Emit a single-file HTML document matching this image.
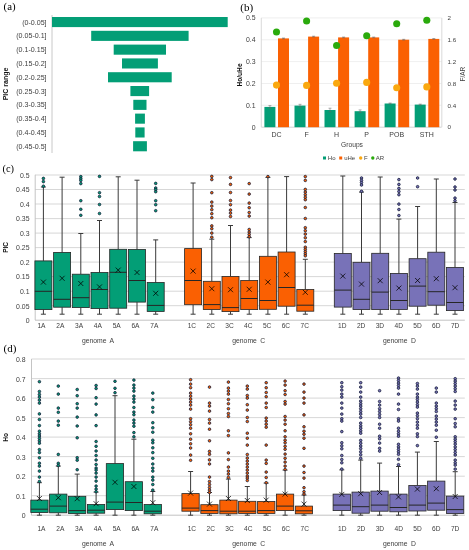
<!DOCTYPE html><html><head><meta charset="utf-8"><title>Figure</title>
<style>html,body{margin:0;padding:0;background:#fff}svg{display:block}text{font-family:"Liberation Sans",Arial,sans-serif;fill:#404040}.ser{font-family:"Liberation Serif","Times New Roman",serif;fill:#000}.b{font-weight:bold;fill:#111}</style></head><body>
<svg width="469" height="550" viewBox="0 0 469 550">
<rect width="469" height="550" fill="#fff"/>
<text class="ser" x="3.6" y="10.4" font-size="10.8">(a)</text>
<line x1="52" y1="15" x2="52" y2="153" stroke="#c8c8c8" stroke-width="1"/>
<rect x="52.0" y="17.0" width="175.7" height="10.1" fill="#039e76"/>
<text x="46.6" y="24.6" font-size="7.1" text-anchor="end">(0-0.05]</text>
<rect x="91.2" y="30.8" width="97.4" height="10.1" fill="#039e76"/>
<text x="46.6" y="38.4" font-size="7.1" text-anchor="end">(0.05-0.1]</text>
<rect x="113.7" y="44.6" width="52.3" height="10.1" fill="#039e76"/>
<text x="46.6" y="52.2" font-size="7.1" text-anchor="end">(0.1-0.15]</text>
<rect x="122.0" y="58.4" width="35.9" height="10.1" fill="#039e76"/>
<text x="46.6" y="66.0" font-size="7.1" text-anchor="end">(0.15-0.2]</text>
<rect x="108.0" y="72.2" width="63.7" height="10.1" fill="#039e76"/>
<text x="46.6" y="79.8" font-size="7.1" text-anchor="end">(0.2-0.25]</text>
<rect x="130.4" y="86.0" width="18.7" height="10.1" fill="#039e76"/>
<text x="46.6" y="93.6" font-size="7.1" text-anchor="end">(0.25-0.3]</text>
<rect x="133.3" y="99.8" width="13.2" height="10.1" fill="#039e76"/>
<text x="46.6" y="107.4" font-size="7.1" text-anchor="end">(0.3-0.35]</text>
<rect x="135.1" y="113.6" width="9.8" height="10.1" fill="#039e76"/>
<text x="46.6" y="121.2" font-size="7.1" text-anchor="end">(0.35-0.4]</text>
<rect x="135.3" y="127.4" width="9.3" height="10.1" fill="#039e76"/>
<text x="46.6" y="135.0" font-size="7.1" text-anchor="end">(0.4-0.45]</text>
<rect x="133.1" y="141.2" width="13.8" height="10.1" fill="#039e76"/>
<text x="46.6" y="148.8" font-size="7.1" text-anchor="end">(0.45-0.5]</text>
<text class="b" transform="translate(8,84) rotate(-90)" font-size="7" text-anchor="middle">PIC range</text>
<text class="ser" x="240.3" y="10.5" font-size="11">(b)</text>
<line x1="261.4" y1="127.2" x2="441.6" y2="127.2" stroke="#c8c8c8" stroke-width="0.8"/>
<text x="255.5" y="129.7" font-size="6.9" text-anchor="end">0</text>
<text x="447.5" y="129.4" font-size="6.2">0</text>
<line x1="261.4" y1="105.3" x2="441.6" y2="105.3" stroke="#ebebeb" stroke-width="0.8"/>
<text x="255.5" y="107.8" font-size="6.9" text-anchor="end">0.1</text>
<text x="447.5" y="107.5" font-size="6.2">0.4</text>
<line x1="261.4" y1="83.5" x2="441.6" y2="83.5" stroke="#ebebeb" stroke-width="0.8"/>
<text x="255.5" y="86.0" font-size="6.9" text-anchor="end">0.2</text>
<text x="447.5" y="85.7" font-size="6.2">0.8</text>
<line x1="261.4" y1="61.6" x2="441.6" y2="61.6" stroke="#ebebeb" stroke-width="0.8"/>
<text x="255.5" y="64.1" font-size="6.9" text-anchor="end">0.3</text>
<text x="447.5" y="63.8" font-size="6.2">1.2</text>
<line x1="261.4" y1="39.8" x2="441.6" y2="39.8" stroke="#ebebeb" stroke-width="0.8"/>
<text x="255.5" y="42.3" font-size="6.9" text-anchor="end">0.4</text>
<text x="447.5" y="42.0" font-size="6.2">1.6</text>
<line x1="261.4" y1="17.9" x2="441.6" y2="17.9" stroke="#ebebeb" stroke-width="0.8"/>
<text x="255.5" y="20.4" font-size="6.9" text-anchor="end">0.5</text>
<text x="447.5" y="20.1" font-size="6.2">2</text>
<rect x="264.4" y="106.9" width="11" height="20.3" fill="#039e76"/>
<rect x="278.0" y="38.4" width="11" height="88.8" fill="#fa6002"/>
<path d="M269.9 105.6V108.2M268.4 105.6h3M268.4 108.2h3" stroke="#666" stroke-width="0.5" fill="none"/>
<path d="M283.5 38.0V38.8M282.0 38.0h3M282.0 38.8h3" stroke="#666" stroke-width="0.5" fill="none"/>
<circle cx="276.5" cy="85.1" r="3.55" fill="#faa80f"/>
<circle cx="276.5" cy="32.0" r="3.55" fill="#2aaa0c"/>
<text x="276.5" y="137" font-size="7" text-anchor="middle">DC</text>
<rect x="294.5" y="105.6" width="11" height="21.6" fill="#039e76"/>
<rect x="308.1" y="36.6" width="11" height="90.6" fill="#fa6002"/>
<path d="M300.0 104.3V106.9M298.5 104.3h3M298.5 106.9h3" stroke="#666" stroke-width="0.5" fill="none"/>
<path d="M313.6 36.2V37.0M312.1 36.2h3M312.1 37.0h3" stroke="#666" stroke-width="0.5" fill="none"/>
<circle cx="306.6" cy="85.4" r="3.55" fill="#faa80f"/>
<circle cx="306.6" cy="21.0" r="3.55" fill="#2aaa0c"/>
<text x="306.6" y="137" font-size="7" text-anchor="middle">F</text>
<rect x="324.5" y="110.0" width="11" height="17.2" fill="#039e76"/>
<rect x="338.1" y="37.4" width="11" height="89.8" fill="#fa6002"/>
<path d="M330.0 108.2V111.8M328.5 108.2h3M328.5 111.8h3" stroke="#666" stroke-width="0.5" fill="none"/>
<path d="M343.6 37.0V37.8M342.1 37.0h3M342.1 37.8h3" stroke="#666" stroke-width="0.5" fill="none"/>
<circle cx="336.6" cy="83.2" r="3.55" fill="#faa80f"/>
<circle cx="336.6" cy="45.5" r="3.55" fill="#2aaa0c"/>
<text x="336.6" y="137" font-size="7" text-anchor="middle">H</text>
<rect x="354.6" y="111.2" width="11" height="16.0" fill="#039e76"/>
<rect x="368.2" y="37.4" width="11" height="89.8" fill="#fa6002"/>
<path d="M360.1 109.9V112.5M358.6 109.9h3M358.6 112.5h3" stroke="#666" stroke-width="0.5" fill="none"/>
<path d="M373.7 37.0V37.8M372.2 37.0h3M372.2 37.8h3" stroke="#666" stroke-width="0.5" fill="none"/>
<circle cx="366.7" cy="82.4" r="3.55" fill="#faa80f"/>
<circle cx="366.7" cy="35.8" r="3.55" fill="#2aaa0c"/>
<text x="366.7" y="137" font-size="7" text-anchor="middle">P</text>
<rect x="384.6" y="103.5" width="11" height="23.7" fill="#039e76"/>
<rect x="398.2" y="39.7" width="11" height="87.5" fill="#fa6002"/>
<path d="M390.1 103.0V104.0M388.6 103.0h3M388.6 104.0h3" stroke="#666" stroke-width="0.5" fill="none"/>
<path d="M403.7 39.3V40.1M402.2 39.3h3M402.2 40.1h3" stroke="#666" stroke-width="0.5" fill="none"/>
<circle cx="396.7" cy="87.7" r="3.55" fill="#faa80f"/>
<circle cx="396.7" cy="23.8" r="3.55" fill="#2aaa0c"/>
<text x="396.7" y="137" font-size="7" text-anchor="middle">POB</text>
<rect x="414.7" y="104.6" width="11" height="22.6" fill="#039e76"/>
<rect x="428.3" y="38.9" width="11" height="88.3" fill="#fa6002"/>
<path d="M420.2 104.1V105.1M418.7 104.1h3M418.7 105.1h3" stroke="#666" stroke-width="0.5" fill="none"/>
<path d="M433.8 38.5V39.3M432.3 38.5h3M432.3 39.3h3" stroke="#666" stroke-width="0.5" fill="none"/>
<circle cx="426.8" cy="86.9" r="3.55" fill="#faa80f"/>
<circle cx="426.8" cy="20.2" r="3.55" fill="#2aaa0c"/>
<text x="426.8" y="137" font-size="7" text-anchor="middle">STH</text>
<text x="352" y="146.8" font-size="6.7" text-anchor="middle">Groups</text>
<path d="M261.3 17.9V127.2M441.8 17.9V127.2" stroke="#d0d0d0" stroke-width="0.8" fill="none"/>
<text class="b" transform="translate(242.2,75) rotate(-90)" font-size="6.6" text-anchor="middle">Ho/uHe</text>
<text transform="translate(464.8,74.1) rotate(-90)" font-size="6.5" text-anchor="middle" fill="#222">F/AR</text>
<rect x="323" y="156.5" width="3" height="3" fill="#039e76"/><text x="327.8" y="160.2" font-size="6" fill="#222">Ho</text>
<rect x="339.2" y="156.5" width="3" height="3" fill="#fa6002"/><text x="344.2" y="160.2" font-size="6" fill="#222">uHe</text>
<circle cx="360.7" cy="158" r="1.7" fill="#faa80f"/><text x="364.1" y="160.2" font-size="6" fill="#222">F</text>
<circle cx="372.8" cy="158" r="1.7" fill="#2aaa0c"/><text x="375.8" y="160.2" font-size="6" fill="#222">AR</text>
<text class="ser" x="2.5" y="172.1" font-size="10.4">(c)</text>
<line x1="35" y1="320.2" x2="464.8" y2="320.2" stroke="#bcbcbc" stroke-width="0.9"/>
<text x="29.5" y="323.0" font-size="6.9" text-anchor="end">0</text>
<line x1="35" y1="305.7" x2="464.8" y2="305.7" stroke="#d2d2d2" stroke-width="0.9"/>
<text x="29.5" y="308.5" font-size="6.9" text-anchor="end">0.05</text>
<line x1="35" y1="291.2" x2="464.8" y2="291.2" stroke="#d2d2d2" stroke-width="0.9"/>
<text x="29.5" y="294.0" font-size="6.9" text-anchor="end">0.1</text>
<line x1="35" y1="276.6" x2="464.8" y2="276.6" stroke="#d2d2d2" stroke-width="0.9"/>
<text x="29.5" y="279.4" font-size="6.9" text-anchor="end">0.15</text>
<line x1="35" y1="262.1" x2="464.8" y2="262.1" stroke="#d2d2d2" stroke-width="0.9"/>
<text x="29.5" y="264.9" font-size="6.9" text-anchor="end">0.2</text>
<line x1="35" y1="247.6" x2="464.8" y2="247.6" stroke="#d2d2d2" stroke-width="0.9"/>
<text x="29.5" y="250.4" font-size="6.9" text-anchor="end">0.25</text>
<line x1="35" y1="233.1" x2="464.8" y2="233.1" stroke="#d2d2d2" stroke-width="0.9"/>
<text x="29.5" y="235.9" font-size="6.9" text-anchor="end">0.3</text>
<line x1="35" y1="218.6" x2="464.8" y2="218.6" stroke="#d2d2d2" stroke-width="0.9"/>
<text x="29.5" y="221.4" font-size="6.9" text-anchor="end">0.35</text>
<line x1="35" y1="204.0" x2="464.8" y2="204.0" stroke="#d2d2d2" stroke-width="0.9"/>
<text x="29.5" y="206.8" font-size="6.9" text-anchor="end">0.4</text>
<line x1="35" y1="189.5" x2="464.8" y2="189.5" stroke="#d2d2d2" stroke-width="0.9"/>
<text x="29.5" y="192.3" font-size="6.9" text-anchor="end">0.45</text>
<line x1="35" y1="175.0" x2="464.8" y2="175.0" stroke="#d2d2d2" stroke-width="0.9"/>
<text x="29.5" y="177.8" font-size="6.9" text-anchor="end">0.5</text>
<line x1="35.2" y1="174.8" x2="35.2" y2="320" stroke="#c4c4c4" stroke-width="1"/>
<path d="M43.4 187.0V260.9M43.4 309.6V314.2M40.9 187.0h5M40.9 314.2h5" stroke="#3a3a3a" stroke-width="1" fill="none"/><rect x="34.9" y="260.9" width="17.0" height="48.7" fill="#039e76" stroke="#262626" stroke-width="0.8"/><line x1="34.9" y1="291.3" x2="51.9" y2="291.3" stroke="#262626" stroke-width="1"/><path d="M40.9 279.6l5 5m0 -5l-5 5" stroke="#000" stroke-width="0.75" fill="none"/><circle cx="43.4" cy="178.4" r="1.3" fill="#039e76" stroke="#141c38" stroke-width="0.8"/><circle cx="43.4" cy="181.6" r="1.3" fill="#039e76" stroke="#141c38" stroke-width="0.8"/><circle cx="43.4" cy="186.2" r="1.3" fill="#039e76" stroke="#141c38" stroke-width="0.8"/>
<text x="41.5" y="328.4" font-size="6.6" text-anchor="middle">1A</text>
<path d="M62.1 177.2V252.4M62.1 307.2V314.2M59.6 177.2h5M59.6 314.2h5" stroke="#3a3a3a" stroke-width="1" fill="none"/><rect x="53.6" y="252.4" width="17.0" height="54.8" fill="#039e76" stroke="#262626" stroke-width="0.8"/><line x1="53.6" y1="299.3" x2="70.6" y2="299.3" stroke="#262626" stroke-width="1"/><path d="M59.6 275.8l5 5m0 -5l-5 5" stroke="#000" stroke-width="0.75" fill="none"/>
<text x="60.3" y="328.4" font-size="6.6" text-anchor="middle">2A</text>
<path d="M80.8 233.5V274.2M80.8 307.6V314.2M78.3 233.5h5M78.3 314.2h5" stroke="#3a3a3a" stroke-width="1" fill="none"/><rect x="72.3" y="274.2" width="17.0" height="33.4" fill="#039e76" stroke="#262626" stroke-width="0.8"/><line x1="72.3" y1="297.7" x2="89.3" y2="297.7" stroke="#262626" stroke-width="1"/><path d="M78.3 281.0l5 5m0 -5l-5 5" stroke="#000" stroke-width="0.75" fill="none"/><circle cx="80.8" cy="176.6" r="1.3" fill="#039e76" stroke="#141c38" stroke-width="0.8"/><circle cx="80.8" cy="178.6" r="1.3" fill="#039e76" stroke="#141c38" stroke-width="0.8"/><circle cx="80.8" cy="180.4" r="1.3" fill="#039e76" stroke="#141c38" stroke-width="0.8"/><circle cx="80.8" cy="183.6" r="1.3" fill="#039e76" stroke="#141c38" stroke-width="0.8"/><circle cx="80.8" cy="200.7" r="1.3" fill="#039e76" stroke="#141c38" stroke-width="0.8"/><circle cx="80.8" cy="209.3" r="1.3" fill="#039e76" stroke="#141c38" stroke-width="0.8"/><circle cx="80.8" cy="215.3" r="1.3" fill="#039e76" stroke="#141c38" stroke-width="0.8"/>
<text x="79.1" y="328.4" font-size="6.6" text-anchor="middle">3A</text>
<path d="M99.5 220.5V272.5M99.5 308.6V314.2M97.0 220.5h5M97.0 314.2h5" stroke="#3a3a3a" stroke-width="1" fill="none"/><rect x="91.0" y="272.5" width="17.0" height="36.1" fill="#039e76" stroke="#262626" stroke-width="0.8"/><line x1="91.0" y1="289.5" x2="108.0" y2="289.5" stroke="#262626" stroke-width="1"/><path d="M97.0 284.4l5 5m0 -5l-5 5" stroke="#000" stroke-width="0.75" fill="none"/><circle cx="99.5" cy="176.4" r="1.3" fill="#039e76" stroke="#141c38" stroke-width="0.8"/><circle cx="99.5" cy="192.7" r="1.3" fill="#039e76" stroke="#141c38" stroke-width="0.8"/><circle cx="99.5" cy="196.5" r="1.3" fill="#039e76" stroke="#141c38" stroke-width="0.8"/><circle cx="99.5" cy="204.5" r="1.3" fill="#039e76" stroke="#141c38" stroke-width="0.8"/><circle cx="99.5" cy="213.5" r="1.3" fill="#039e76" stroke="#141c38" stroke-width="0.8"/>
<text x="97.9" y="328.4" font-size="6.6" text-anchor="middle">4A</text>
<path d="M118.2 176.8V249.3M118.2 308.2V314.2M115.7 176.8h5M115.7 314.2h5" stroke="#3a3a3a" stroke-width="1" fill="none"/><rect x="109.7" y="249.3" width="17.0" height="58.9" fill="#039e76" stroke="#262626" stroke-width="0.8"/><line x1="109.7" y1="272.3" x2="126.7" y2="272.3" stroke="#262626" stroke-width="1"/><path d="M115.7 267.6l5 5m0 -5l-5 5" stroke="#000" stroke-width="0.75" fill="none"/>
<text x="116.7" y="328.4" font-size="6.6" text-anchor="middle">5A</text>
<path d="M137.0 180.2V249.5M137.0 302.1V314.2M134.5 180.2h5M134.5 314.2h5" stroke="#3a3a3a" stroke-width="1" fill="none"/><rect x="128.5" y="249.5" width="17.0" height="52.6" fill="#039e76" stroke="#262626" stroke-width="0.8"/><line x1="128.5" y1="280.5" x2="145.5" y2="280.5" stroke="#262626" stroke-width="1"/><path d="M134.5 270.0l5 5m0 -5l-5 5" stroke="#000" stroke-width="0.75" fill="none"/>
<text x="135.5" y="328.4" font-size="6.6" text-anchor="middle">6A</text>
<path d="M155.7 239.9V282.5M155.7 311.4V314.2M153.2 239.9h5M153.2 314.2h5" stroke="#3a3a3a" stroke-width="1" fill="none"/><rect x="147.2" y="282.5" width="17.0" height="28.9" fill="#039e76" stroke="#262626" stroke-width="0.8"/><line x1="147.2" y1="305.4" x2="164.2" y2="305.4" stroke="#262626" stroke-width="1"/><path d="M153.2 290.8l5 5m0 -5l-5 5" stroke="#000" stroke-width="0.75" fill="none"/><circle cx="155.7" cy="183.4" r="1.3" fill="#039e76" stroke="#141c38" stroke-width="0.8"/><circle cx="155.7" cy="188.0" r="1.3" fill="#039e76" stroke="#141c38" stroke-width="0.8"/><circle cx="155.7" cy="189.6" r="1.3" fill="#039e76" stroke="#141c38" stroke-width="0.8"/><circle cx="155.7" cy="191.7" r="1.3" fill="#039e76" stroke="#141c38" stroke-width="0.8"/><circle cx="155.7" cy="200.7" r="1.3" fill="#039e76" stroke="#141c38" stroke-width="0.8"/><circle cx="155.7" cy="204.7" r="1.3" fill="#039e76" stroke="#141c38" stroke-width="0.8"/><circle cx="155.7" cy="210.7" r="1.3" fill="#039e76" stroke="#141c38" stroke-width="0.8"/>
<text x="154.3" y="328.4" font-size="6.6" text-anchor="middle">7A</text>
<path d="M193.1 183.0V248.6M193.1 304.7V314.2M190.6 183.0h5M190.6 314.2h5" stroke="#3a3a3a" stroke-width="1" fill="none"/><rect x="184.6" y="248.6" width="17.0" height="56.1" fill="#fa6002" stroke="#262626" stroke-width="0.8"/><line x1="184.6" y1="280.5" x2="201.6" y2="280.5" stroke="#262626" stroke-width="1"/><path d="M190.6 268.6l5 5m0 -5l-5 5" stroke="#000" stroke-width="0.75" fill="none"/>
<text x="191.9" y="328.4" font-size="6.6" text-anchor="middle">1C</text>
<path d="M211.8 239.2V281.3M211.8 309.6V314.2M209.3 239.2h5M209.3 314.2h5" stroke="#3a3a3a" stroke-width="1" fill="none"/><rect x="203.3" y="281.3" width="17.0" height="28.3" fill="#fa6002" stroke="#262626" stroke-width="0.8"/><line x1="203.3" y1="304.6" x2="220.3" y2="304.6" stroke="#262626" stroke-width="1"/><path d="M209.3 286.2l5 5m0 -5l-5 5" stroke="#000" stroke-width="0.75" fill="none"/><circle cx="211.8" cy="176.4" r="1.3" fill="#fa6002" stroke="#141c38" stroke-width="0.8"/><circle cx="211.8" cy="179.6" r="1.3" fill="#fa6002" stroke="#141c38" stroke-width="0.8"/><circle cx="211.8" cy="192.7" r="1.3" fill="#fa6002" stroke="#141c38" stroke-width="0.8"/><circle cx="211.8" cy="202.1" r="1.3" fill="#fa6002" stroke="#141c38" stroke-width="0.8"/><circle cx="211.8" cy="206.1" r="1.3" fill="#fa6002" stroke="#141c38" stroke-width="0.8"/><circle cx="211.8" cy="209.7" r="1.3" fill="#fa6002" stroke="#141c38" stroke-width="0.8"/><circle cx="211.8" cy="213.7" r="1.3" fill="#fa6002" stroke="#141c38" stroke-width="0.8"/><circle cx="211.8" cy="217.7" r="1.3" fill="#fa6002" stroke="#141c38" stroke-width="0.8"/><circle cx="211.8" cy="225.9" r="1.3" fill="#fa6002" stroke="#141c38" stroke-width="0.8"/><circle cx="211.8" cy="228.7" r="1.3" fill="#fa6002" stroke="#141c38" stroke-width="0.8"/><circle cx="211.8" cy="233.1" r="1.3" fill="#fa6002" stroke="#141c38" stroke-width="0.8"/><circle cx="211.8" cy="237.2" r="1.3" fill="#fa6002" stroke="#141c38" stroke-width="0.8"/>
<text x="210.7" y="328.4" font-size="6.6" text-anchor="middle">2C</text>
<path d="M230.5 225.5V276.5M230.5 311.6V314.2M228.0 225.5h5M228.0 314.2h5" stroke="#3a3a3a" stroke-width="1" fill="none"/><rect x="222.0" y="276.5" width="17.0" height="35.1" fill="#fa6002" stroke="#262626" stroke-width="0.8"/><line x1="222.0" y1="307.6" x2="239.0" y2="307.6" stroke="#262626" stroke-width="1"/><path d="M228.0 287.2l5 5m0 -5l-5 5" stroke="#000" stroke-width="0.75" fill="none"/><circle cx="230.5" cy="177.6" r="1.3" fill="#fa6002" stroke="#141c38" stroke-width="0.8"/><circle cx="230.5" cy="184.4" r="1.3" fill="#fa6002" stroke="#141c38" stroke-width="0.8"/><circle cx="230.5" cy="192.5" r="1.3" fill="#fa6002" stroke="#141c38" stroke-width="0.8"/><circle cx="230.5" cy="200.5" r="1.3" fill="#fa6002" stroke="#141c38" stroke-width="0.8"/><circle cx="230.5" cy="204.7" r="1.3" fill="#fa6002" stroke="#141c38" stroke-width="0.8"/><circle cx="230.5" cy="210.1" r="1.3" fill="#fa6002" stroke="#141c38" stroke-width="0.8"/><circle cx="230.5" cy="213.1" r="1.3" fill="#fa6002" stroke="#141c38" stroke-width="0.8"/><circle cx="230.5" cy="216.5" r="1.3" fill="#fa6002" stroke="#141c38" stroke-width="0.8"/>
<text x="229.5" y="328.4" font-size="6.6" text-anchor="middle">3C</text>
<path d="M249.2 237.6V280.5M249.2 309.6V314.2M246.7 237.6h5M246.7 314.2h5" stroke="#3a3a3a" stroke-width="1" fill="none"/><rect x="240.7" y="280.5" width="17.0" height="29.1" fill="#fa6002" stroke="#262626" stroke-width="0.8"/><line x1="240.7" y1="298.5" x2="257.7" y2="298.5" stroke="#262626" stroke-width="1"/><path d="M246.7 286.8l5 5m0 -5l-5 5" stroke="#000" stroke-width="0.75" fill="none"/><circle cx="249.2" cy="183.6" r="1.3" fill="#fa6002" stroke="#141c38" stroke-width="0.8"/><circle cx="249.2" cy="194.1" r="1.3" fill="#fa6002" stroke="#141c38" stroke-width="0.8"/><circle cx="249.2" cy="203.1" r="1.3" fill="#fa6002" stroke="#141c38" stroke-width="0.8"/><circle cx="249.2" cy="207.7" r="1.3" fill="#fa6002" stroke="#141c38" stroke-width="0.8"/><circle cx="249.2" cy="212.5" r="1.3" fill="#fa6002" stroke="#141c38" stroke-width="0.8"/><circle cx="249.2" cy="216.1" r="1.3" fill="#fa6002" stroke="#141c38" stroke-width="0.8"/><circle cx="249.2" cy="229.5" r="1.3" fill="#fa6002" stroke="#141c38" stroke-width="0.8"/><circle cx="249.2" cy="232.1" r="1.3" fill="#fa6002" stroke="#141c38" stroke-width="0.8"/><circle cx="249.2" cy="234.5" r="1.3" fill="#fa6002" stroke="#141c38" stroke-width="0.8"/><circle cx="249.2" cy="236.8" r="1.3" fill="#fa6002" stroke="#141c38" stroke-width="0.8"/>
<text x="248.3" y="328.4" font-size="6.6" text-anchor="middle">4C</text>
<path d="M267.9 177.4V256.3M267.9 309.3V314.2M265.4 177.4h5M265.4 314.2h5" stroke="#3a3a3a" stroke-width="1" fill="none"/><rect x="259.4" y="256.3" width="17.0" height="53.0" fill="#fa6002" stroke="#262626" stroke-width="0.8"/><line x1="259.4" y1="300.5" x2="276.4" y2="300.5" stroke="#262626" stroke-width="1"/><path d="M265.4 279.6l5 5m0 -5l-5 5" stroke="#000" stroke-width="0.75" fill="none"/><circle cx="267.9" cy="176.6" r="1.3" fill="#fa6002" stroke="#141c38" stroke-width="0.8"/>
<text x="267.1" y="328.4" font-size="6.6" text-anchor="middle">5C</text>
<path d="M286.6 176.6V252.0M286.6 306.2V314.2M284.1 176.6h5M284.1 314.2h5" stroke="#3a3a3a" stroke-width="1" fill="none"/><rect x="278.1" y="252.0" width="17.0" height="54.2" fill="#fa6002" stroke="#262626" stroke-width="0.8"/><line x1="278.1" y1="287.5" x2="295.1" y2="287.5" stroke="#262626" stroke-width="1"/><path d="M284.1 272.2l5 5m0 -5l-5 5" stroke="#000" stroke-width="0.75" fill="none"/>
<text x="285.9" y="328.4" font-size="6.6" text-anchor="middle">6C</text>
<path d="M305.3 259.3V289.5M305.3 311.2V314.2M302.8 259.3h5M302.8 314.2h5" stroke="#3a3a3a" stroke-width="1" fill="none"/><rect x="296.8" y="289.5" width="17.0" height="21.7" fill="#fa6002" stroke="#262626" stroke-width="0.8"/><line x1="296.8" y1="305.2" x2="313.8" y2="305.2" stroke="#262626" stroke-width="1"/><path d="M302.8 289.8l5 5m0 -5l-5 5" stroke="#000" stroke-width="0.75" fill="none"/><circle cx="305.3" cy="176.6" r="1.3" fill="#fa6002" stroke="#141c38" stroke-width="0.8"/><circle cx="305.3" cy="180.4" r="1.3" fill="#fa6002" stroke="#141c38" stroke-width="0.8"/><circle cx="305.3" cy="189.4" r="1.3" fill="#fa6002" stroke="#141c38" stroke-width="0.8"/><circle cx="305.3" cy="192.1" r="1.3" fill="#fa6002" stroke="#141c38" stroke-width="0.8"/><circle cx="305.3" cy="194.7" r="1.3" fill="#fa6002" stroke="#141c38" stroke-width="0.8"/><circle cx="305.3" cy="197.3" r="1.3" fill="#fa6002" stroke="#141c38" stroke-width="0.8"/><circle cx="305.3" cy="199.7" r="1.3" fill="#fa6002" stroke="#141c38" stroke-width="0.8"/><circle cx="305.3" cy="207.5" r="1.3" fill="#fa6002" stroke="#141c38" stroke-width="0.8"/><circle cx="305.3" cy="218.5" r="1.3" fill="#fa6002" stroke="#141c38" stroke-width="0.8"/><circle cx="305.3" cy="227.7" r="1.3" fill="#fa6002" stroke="#141c38" stroke-width="0.8"/><circle cx="305.3" cy="230.7" r="1.3" fill="#fa6002" stroke="#141c38" stroke-width="0.8"/><circle cx="305.3" cy="234.1" r="1.3" fill="#fa6002" stroke="#141c38" stroke-width="0.8"/><circle cx="305.3" cy="237.8" r="1.3" fill="#fa6002" stroke="#141c38" stroke-width="0.8"/><circle cx="305.3" cy="241.6" r="1.3" fill="#fa6002" stroke="#141c38" stroke-width="0.8"/><circle cx="305.3" cy="247.2" r="1.3" fill="#fa6002" stroke="#141c38" stroke-width="0.8"/><circle cx="305.3" cy="249.4" r="1.3" fill="#fa6002" stroke="#141c38" stroke-width="0.8"/><circle cx="305.3" cy="251.6" r="1.3" fill="#fa6002" stroke="#141c38" stroke-width="0.8"/><circle cx="305.3" cy="253.8" r="1.3" fill="#fa6002" stroke="#141c38" stroke-width="0.8"/><circle cx="305.3" cy="255.8" r="1.3" fill="#fa6002" stroke="#141c38" stroke-width="0.8"/>
<text x="304.7" y="328.4" font-size="6.6" text-anchor="middle">7C</text>
<path d="M342.8 176.0V253.5M342.8 307.1V314.2M340.3 176.0h5M340.3 314.2h5" stroke="#3a3a3a" stroke-width="1" fill="none"/><rect x="334.3" y="253.5" width="17.0" height="53.6" fill="#7872b8" stroke="#262626" stroke-width="0.8"/><line x1="334.3" y1="290.1" x2="351.3" y2="290.1" stroke="#262626" stroke-width="1"/><path d="M340.3 273.6l5 5m0 -5l-5 5" stroke="#000" stroke-width="0.75" fill="none"/>
<text x="342.3" y="328.4" font-size="6.6" text-anchor="middle">1D</text>
<path d="M361.5 192.1V262.3M361.5 309.6V314.2M359.0 192.1h5M359.0 314.2h5" stroke="#3a3a3a" stroke-width="1" fill="none"/><rect x="353.0" y="262.3" width="17.0" height="47.3" fill="#7872b8" stroke="#262626" stroke-width="0.8"/><line x1="353.0" y1="299.3" x2="370.0" y2="299.3" stroke="#262626" stroke-width="1"/><path d="M359.0 281.6l5 5m0 -5l-5 5" stroke="#000" stroke-width="0.75" fill="none"/><circle cx="361.5" cy="178.0" r="1.3" fill="#7872b8" stroke="#141c38" stroke-width="0.8"/><circle cx="361.5" cy="180.4" r="1.3" fill="#7872b8" stroke="#141c38" stroke-width="0.8"/><circle cx="361.5" cy="182.6" r="1.3" fill="#7872b8" stroke="#141c38" stroke-width="0.8"/><circle cx="361.5" cy="185.0" r="1.3" fill="#7872b8" stroke="#141c38" stroke-width="0.8"/><circle cx="361.5" cy="191.3" r="1.3" fill="#7872b8" stroke="#141c38" stroke-width="0.8"/>
<text x="361.1" y="328.4" font-size="6.6" text-anchor="middle">2D</text>
<path d="M380.2 177.0V253.3M380.2 309.6V314.2M377.7 177.0h5M377.7 314.2h5" stroke="#3a3a3a" stroke-width="1" fill="none"/><rect x="371.7" y="253.3" width="17.0" height="56.3" fill="#7872b8" stroke="#262626" stroke-width="0.8"/><line x1="371.7" y1="292.1" x2="388.7" y2="292.1" stroke="#262626" stroke-width="1"/><path d="M377.7 278.2l5 5m0 -5l-5 5" stroke="#000" stroke-width="0.75" fill="none"/>
<text x="379.9" y="328.4" font-size="6.6" text-anchor="middle">3D</text>
<path d="M398.9 219.1V273.4M398.9 309.4V314.2M396.4 219.1h5M396.4 314.2h5" stroke="#3a3a3a" stroke-width="1" fill="none"/><rect x="390.4" y="273.4" width="17.0" height="36.0" fill="#7872b8" stroke="#262626" stroke-width="0.8"/><line x1="390.4" y1="300.5" x2="407.4" y2="300.5" stroke="#262626" stroke-width="1"/><path d="M396.4 285.6l5 5m0 -5l-5 5" stroke="#000" stroke-width="0.75" fill="none"/><circle cx="398.9" cy="179.6" r="1.3" fill="#7872b8" stroke="#141c38" stroke-width="0.8"/><circle cx="398.9" cy="184.4" r="1.3" fill="#7872b8" stroke="#141c38" stroke-width="0.8"/><circle cx="398.9" cy="188.4" r="1.3" fill="#7872b8" stroke="#141c38" stroke-width="0.8"/><circle cx="398.9" cy="191.5" r="1.3" fill="#7872b8" stroke="#141c38" stroke-width="0.8"/><circle cx="398.9" cy="194.7" r="1.3" fill="#7872b8" stroke="#141c38" stroke-width="0.8"/><circle cx="398.9" cy="204.1" r="1.3" fill="#7872b8" stroke="#141c38" stroke-width="0.8"/><circle cx="398.9" cy="209.5" r="1.3" fill="#7872b8" stroke="#141c38" stroke-width="0.8"/><circle cx="398.9" cy="215.5" r="1.3" fill="#7872b8" stroke="#141c38" stroke-width="0.8"/>
<text x="398.7" y="328.4" font-size="6.6" text-anchor="middle">4D</text>
<path d="M417.6 206.5V258.7M417.6 306.2V314.2M415.1 206.5h5M415.1 314.2h5" stroke="#3a3a3a" stroke-width="1" fill="none"/><rect x="409.1" y="258.7" width="17.0" height="47.5" fill="#7872b8" stroke="#262626" stroke-width="0.8"/><line x1="409.1" y1="286.1" x2="426.1" y2="286.1" stroke="#262626" stroke-width="1"/><path d="M415.1 278.0l5 5m0 -5l-5 5" stroke="#000" stroke-width="0.75" fill="none"/><circle cx="417.6" cy="178.0" r="1.3" fill="#7872b8" stroke="#141c38" stroke-width="0.8"/><circle cx="417.6" cy="186.7" r="1.3" fill="#7872b8" stroke="#141c38" stroke-width="0.8"/>
<text x="417.5" y="328.4" font-size="6.6" text-anchor="middle">5D</text>
<path d="M436.3 179.0V252.2M436.3 305.2V314.2M433.8 179.0h5M433.8 314.2h5" stroke="#3a3a3a" stroke-width="1" fill="none"/><rect x="427.8" y="252.2" width="17.0" height="53.0" fill="#7872b8" stroke="#262626" stroke-width="0.8"/><line x1="427.8" y1="291.7" x2="444.8" y2="291.7" stroke="#262626" stroke-width="1"/><path d="M433.8 276.2l5 5m0 -5l-5 5" stroke="#000" stroke-width="0.75" fill="none"/>
<text x="436.3" y="328.4" font-size="6.6" text-anchor="middle">6D</text>
<path d="M455.0 202.5V267.4M455.0 310.6V314.2M452.5 202.5h5M452.5 314.2h5" stroke="#3a3a3a" stroke-width="1" fill="none"/><rect x="446.5" y="267.4" width="17.0" height="43.2" fill="#7872b8" stroke="#262626" stroke-width="0.8"/><line x1="446.5" y1="302.5" x2="463.5" y2="302.5" stroke="#262626" stroke-width="1"/><path d="M452.5 285.2l5 5m0 -5l-5 5" stroke="#000" stroke-width="0.75" fill="none"/><circle cx="455.0" cy="179.0" r="1.3" fill="#7872b8" stroke="#141c38" stroke-width="0.8"/><circle cx="455.0" cy="187.0" r="1.3" fill="#7872b8" stroke="#141c38" stroke-width="0.8"/><circle cx="455.0" cy="190.0" r="1.3" fill="#7872b8" stroke="#141c38" stroke-width="0.8"/><circle cx="455.0" cy="198.1" r="1.3" fill="#7872b8" stroke="#141c38" stroke-width="0.8"/><circle cx="455.0" cy="200.7" r="1.3" fill="#7872b8" stroke="#141c38" stroke-width="0.8"/>
<text x="455.1" y="328.4" font-size="6.6" text-anchor="middle">7D</text>
<text x="98.0" y="342.7" font-size="6.8" text-anchor="middle" fill="#262626" word-spacing="1.5">genome A</text>
<text x="248.7" y="342.7" font-size="6.8" text-anchor="middle" fill="#262626" word-spacing="1.5">genome C</text>
<text x="399.4" y="342.7" font-size="6.8" text-anchor="middle" fill="#262626" word-spacing="1.5">genome D</text>
<text class="b" transform="translate(7.7,247.4) rotate(-90)" font-size="6.5" text-anchor="middle">PIC</text>
<text class="ser" x="3.6" y="352.4" font-size="11">(d)</text>
<line x1="31.4" y1="515.2" x2="464.8" y2="515.2" stroke="#bcbcbc" stroke-width="0.9"/>
<text x="25.6" y="518.1" font-size="6.9" text-anchor="end">0</text>
<line x1="31.4" y1="495.7" x2="464.8" y2="495.7" stroke="#d2d2d2" stroke-width="0.9"/>
<text x="25.6" y="498.6" font-size="6.9" text-anchor="end">0.1</text>
<line x1="31.4" y1="476.2" x2="464.8" y2="476.2" stroke="#d2d2d2" stroke-width="0.9"/>
<text x="25.6" y="479.1" font-size="6.9" text-anchor="end">0.2</text>
<line x1="31.4" y1="456.6" x2="464.8" y2="456.6" stroke="#d2d2d2" stroke-width="0.9"/>
<text x="25.6" y="459.5" font-size="6.9" text-anchor="end">0.3</text>
<line x1="31.4" y1="437.1" x2="464.8" y2="437.1" stroke="#d2d2d2" stroke-width="0.9"/>
<text x="25.6" y="440.0" font-size="6.9" text-anchor="end">0.4</text>
<line x1="31.4" y1="417.6" x2="464.8" y2="417.6" stroke="#d2d2d2" stroke-width="0.9"/>
<text x="25.6" y="420.5" font-size="6.9" text-anchor="end">0.5</text>
<line x1="31.4" y1="398.1" x2="464.8" y2="398.1" stroke="#d2d2d2" stroke-width="0.9"/>
<text x="25.6" y="401.0" font-size="6.9" text-anchor="end">0.6</text>
<line x1="31.4" y1="378.6" x2="464.8" y2="378.6" stroke="#d2d2d2" stroke-width="0.9"/>
<text x="25.6" y="381.5" font-size="6.9" text-anchor="end">0.7</text>
<line x1="31.4" y1="359.0" x2="464.8" y2="359.0" stroke="#d2d2d2" stroke-width="0.9"/>
<text x="25.6" y="361.9" font-size="6.9" text-anchor="end">0.8</text>
<line x1="31.5" y1="359" x2="31.5" y2="515.2" stroke="#c4c4c4" stroke-width="1"/>
<path d="M39.4 482.7V500.1M39.4 512.6V515.2M36.9 482.7h5M36.9 515.2h5" stroke="#3a3a3a" stroke-width="1" fill="none"/><rect x="30.8" y="500.1" width="17.3" height="12.5" fill="#039e76" stroke="#262626" stroke-width="0.8"/><line x1="30.8" y1="509.2" x2="48.0" y2="509.2" stroke="#262626" stroke-width="1"/><path d="M36.9 496.0l5 5m0 -5l-5 5" stroke="#000" stroke-width="0.75" fill="none"/><circle cx="39.4" cy="381.7" r="1.3" fill="#039e76" stroke="#141c38" stroke-width="0.8"/><circle cx="39.4" cy="391.5" r="1.3" fill="#039e76" stroke="#141c38" stroke-width="0.8"/><circle cx="39.4" cy="394.5" r="1.3" fill="#039e76" stroke="#141c38" stroke-width="0.8"/><circle cx="39.4" cy="397.1" r="1.3" fill="#039e76" stroke="#141c38" stroke-width="0.8"/><circle cx="39.4" cy="400.1" r="1.3" fill="#039e76" stroke="#141c38" stroke-width="0.8"/><circle cx="39.4" cy="403.1" r="1.3" fill="#039e76" stroke="#141c38" stroke-width="0.8"/><circle cx="39.4" cy="413.9" r="1.3" fill="#039e76" stroke="#141c38" stroke-width="0.8"/><circle cx="39.4" cy="419.5" r="1.3" fill="#039e76" stroke="#141c38" stroke-width="0.8"/><circle cx="39.4" cy="425.6" r="1.3" fill="#039e76" stroke="#141c38" stroke-width="0.8"/><circle cx="39.4" cy="431.2" r="1.3" fill="#039e76" stroke="#141c38" stroke-width="0.8"/><circle cx="39.4" cy="433.8" r="1.3" fill="#039e76" stroke="#141c38" stroke-width="0.8"/><circle cx="39.4" cy="436.0" r="1.3" fill="#039e76" stroke="#141c38" stroke-width="0.8"/><circle cx="39.4" cy="438.4" r="1.3" fill="#039e76" stroke="#141c38" stroke-width="0.8"/><circle cx="39.4" cy="440.8" r="1.3" fill="#039e76" stroke="#141c38" stroke-width="0.8"/><circle cx="39.4" cy="443.2" r="1.3" fill="#039e76" stroke="#141c38" stroke-width="0.8"/><circle cx="39.4" cy="449.6" r="1.3" fill="#039e76" stroke="#141c38" stroke-width="0.8"/><circle cx="39.4" cy="452.6" r="1.3" fill="#039e76" stroke="#141c38" stroke-width="0.8"/><circle cx="39.4" cy="457.8" r="1.3" fill="#039e76" stroke="#141c38" stroke-width="0.8"/><circle cx="39.4" cy="463.2" r="1.3" fill="#039e76" stroke="#141c38" stroke-width="0.8"/><circle cx="39.4" cy="466.1" r="1.3" fill="#039e76" stroke="#141c38" stroke-width="0.8"/><circle cx="39.4" cy="471.1" r="1.3" fill="#039e76" stroke="#141c38" stroke-width="0.8"/><circle cx="39.4" cy="477.1" r="1.3" fill="#039e76" stroke="#141c38" stroke-width="0.8"/><circle cx="39.4" cy="481.5" r="1.3" fill="#039e76" stroke="#141c38" stroke-width="0.8"/>
<text x="41.5" y="530.9" font-size="6.6" text-anchor="middle">1A</text>
<path d="M58.3 466.1V494.1M58.3 512.8V515.2M55.8 466.1h5M55.8 515.2h5" stroke="#3a3a3a" stroke-width="1" fill="none"/><rect x="49.6" y="494.1" width="17.3" height="18.7" fill="#039e76" stroke="#262626" stroke-width="0.8"/><line x1="49.6" y1="506.1" x2="67.0" y2="506.1" stroke="#262626" stroke-width="1"/><path d="M55.8 495.2l5 5m0 -5l-5 5" stroke="#000" stroke-width="0.75" fill="none"/><circle cx="58.3" cy="386.1" r="1.3" fill="#039e76" stroke="#141c38" stroke-width="0.8"/><circle cx="58.3" cy="394.1" r="1.3" fill="#039e76" stroke="#141c38" stroke-width="0.8"/><circle cx="58.3" cy="408.1" r="1.3" fill="#039e76" stroke="#141c38" stroke-width="0.8"/><circle cx="58.3" cy="412.3" r="1.3" fill="#039e76" stroke="#141c38" stroke-width="0.8"/><circle cx="58.3" cy="421.1" r="1.3" fill="#039e76" stroke="#141c38" stroke-width="0.8"/><circle cx="58.3" cy="425.2" r="1.3" fill="#039e76" stroke="#141c38" stroke-width="0.8"/><circle cx="58.3" cy="454.4" r="1.3" fill="#039e76" stroke="#141c38" stroke-width="0.8"/><circle cx="58.3" cy="463.3" r="1.3" fill="#039e76" stroke="#141c38" stroke-width="0.8"/><circle cx="58.3" cy="465.5" r="1.3" fill="#039e76" stroke="#141c38" stroke-width="0.8"/>
<text x="60.3" y="530.9" font-size="6.6" text-anchor="middle">2A</text>
<path d="M77.2 474.1V496.3M77.2 513.6V515.2M74.7 474.1h5M74.7 515.2h5" stroke="#3a3a3a" stroke-width="1" fill="none"/><rect x="68.5" y="496.3" width="17.3" height="17.3" fill="#039e76" stroke="#262626" stroke-width="0.8"/><line x1="68.5" y1="510.6" x2="85.8" y2="510.6" stroke="#262626" stroke-width="1"/><path d="M74.7 496.2l5 5m0 -5l-5 5" stroke="#000" stroke-width="0.75" fill="none"/><circle cx="77.2" cy="389.5" r="1.3" fill="#039e76" stroke="#141c38" stroke-width="0.8"/><circle cx="77.2" cy="395.7" r="1.3" fill="#039e76" stroke="#141c38" stroke-width="0.8"/><circle cx="77.2" cy="403.7" r="1.3" fill="#039e76" stroke="#141c38" stroke-width="0.8"/><circle cx="77.2" cy="408.1" r="1.3" fill="#039e76" stroke="#141c38" stroke-width="0.8"/><circle cx="77.2" cy="417.1" r="1.3" fill="#039e76" stroke="#141c38" stroke-width="0.8"/><circle cx="77.2" cy="426.0" r="1.3" fill="#039e76" stroke="#141c38" stroke-width="0.8"/><circle cx="77.2" cy="437.8" r="1.3" fill="#039e76" stroke="#141c38" stroke-width="0.8"/><circle cx="77.2" cy="457.7" r="1.3" fill="#039e76" stroke="#141c38" stroke-width="0.8"/><circle cx="77.2" cy="460.2" r="1.3" fill="#039e76" stroke="#141c38" stroke-width="0.8"/><circle cx="77.2" cy="469.7" r="1.3" fill="#039e76" stroke="#141c38" stroke-width="0.8"/>
<text x="79.1" y="530.9" font-size="6.6" text-anchor="middle">3A</text>
<path d="M96.1 492.1V504.5M96.1 513.2V515.2M93.6 492.1h5M93.6 515.2h5" stroke="#3a3a3a" stroke-width="1" fill="none"/><rect x="87.4" y="504.5" width="17.3" height="8.7" fill="#039e76" stroke="#262626" stroke-width="0.8"/><line x1="87.4" y1="510.2" x2="104.8" y2="510.2" stroke="#262626" stroke-width="1"/><path d="M93.6 501.2l5 5m0 -5l-5 5" stroke="#000" stroke-width="0.75" fill="none"/><circle cx="96.1" cy="385.5" r="1.3" fill="#039e76" stroke="#141c38" stroke-width="0.8"/><circle cx="96.1" cy="388.5" r="1.3" fill="#039e76" stroke="#141c38" stroke-width="0.8"/><circle cx="96.1" cy="397.7" r="1.3" fill="#039e76" stroke="#141c38" stroke-width="0.8"/><circle cx="96.1" cy="404.1" r="1.3" fill="#039e76" stroke="#141c38" stroke-width="0.8"/><circle cx="96.1" cy="414.9" r="1.3" fill="#039e76" stroke="#141c38" stroke-width="0.8"/><circle cx="96.1" cy="425.6" r="1.3" fill="#039e76" stroke="#141c38" stroke-width="0.8"/><circle cx="96.1" cy="441.5" r="1.3" fill="#039e76" stroke="#141c38" stroke-width="0.8"/><circle cx="96.1" cy="446.3" r="1.3" fill="#039e76" stroke="#141c38" stroke-width="0.8"/><circle cx="96.1" cy="451.0" r="1.3" fill="#039e76" stroke="#141c38" stroke-width="0.8"/><circle cx="96.1" cy="455.5" r="1.3" fill="#039e76" stroke="#141c38" stroke-width="0.8"/><circle cx="96.1" cy="460.0" r="1.3" fill="#039e76" stroke="#141c38" stroke-width="0.8"/><circle cx="96.1" cy="464.5" r="1.3" fill="#039e76" stroke="#141c38" stroke-width="0.8"/><circle cx="96.1" cy="468.1" r="1.3" fill="#039e76" stroke="#141c38" stroke-width="0.8"/><circle cx="96.1" cy="470.1" r="1.3" fill="#039e76" stroke="#141c38" stroke-width="0.8"/><circle cx="96.1" cy="473.1" r="1.3" fill="#039e76" stroke="#141c38" stroke-width="0.8"/><circle cx="96.1" cy="477.1" r="1.3" fill="#039e76" stroke="#141c38" stroke-width="0.8"/><circle cx="96.1" cy="481.1" r="1.3" fill="#039e76" stroke="#141c38" stroke-width="0.8"/><circle cx="96.1" cy="486.1" r="1.3" fill="#039e76" stroke="#141c38" stroke-width="0.8"/><circle cx="96.1" cy="489.1" r="1.3" fill="#039e76" stroke="#141c38" stroke-width="0.8"/><circle cx="96.1" cy="491.7" r="1.3" fill="#039e76" stroke="#141c38" stroke-width="0.8"/>
<text x="97.9" y="530.9" font-size="6.6" text-anchor="middle">4A</text>
<path d="M115.0 395.7V463.6M115.0 509.6V515.2M112.5 395.7h5M112.5 515.2h5" stroke="#3a3a3a" stroke-width="1" fill="none"/><rect x="106.3" y="463.6" width="17.3" height="46.0" fill="#039e76" stroke="#262626" stroke-width="0.8"/><line x1="106.3" y1="502.1" x2="123.7" y2="502.1" stroke="#262626" stroke-width="1"/><path d="M112.5 479.8l5 5m0 -5l-5 5" stroke="#000" stroke-width="0.75" fill="none"/><circle cx="115.0" cy="381.3" r="1.3" fill="#039e76" stroke="#141c38" stroke-width="0.8"/><circle cx="115.0" cy="388.3" r="1.3" fill="#039e76" stroke="#141c38" stroke-width="0.8"/><circle cx="115.0" cy="392.7" r="1.3" fill="#039e76" stroke="#141c38" stroke-width="0.8"/>
<text x="116.7" y="530.9" font-size="6.6" text-anchor="middle">5A</text>
<path d="M133.9 439.2V481.7M133.9 510.6V515.2M131.4 439.2h5M131.4 515.2h5" stroke="#3a3a3a" stroke-width="1" fill="none"/><rect x="125.2" y="481.7" width="17.3" height="28.9" fill="#039e76" stroke="#262626" stroke-width="0.8"/><line x1="125.2" y1="502.5" x2="142.6" y2="502.5" stroke="#262626" stroke-width="1"/><path d="M131.4 484.0l5 5m0 -5l-5 5" stroke="#000" stroke-width="0.75" fill="none"/><circle cx="133.9" cy="380.1" r="1.3" fill="#039e76" stroke="#141c38" stroke-width="0.8"/><circle cx="133.9" cy="385.1" r="1.3" fill="#039e76" stroke="#141c38" stroke-width="0.8"/><circle cx="133.9" cy="388.1" r="1.3" fill="#039e76" stroke="#141c38" stroke-width="0.8"/><circle cx="133.9" cy="391.1" r="1.3" fill="#039e76" stroke="#141c38" stroke-width="0.8"/><circle cx="133.9" cy="396.1" r="1.3" fill="#039e76" stroke="#141c38" stroke-width="0.8"/><circle cx="133.9" cy="399.1" r="1.3" fill="#039e76" stroke="#141c38" stroke-width="0.8"/><circle cx="133.9" cy="402.1" r="1.3" fill="#039e76" stroke="#141c38" stroke-width="0.8"/><circle cx="133.9" cy="407.5" r="1.3" fill="#039e76" stroke="#141c38" stroke-width="0.8"/><circle cx="133.9" cy="412.1" r="1.3" fill="#039e76" stroke="#141c38" stroke-width="0.8"/><circle cx="133.9" cy="414.7" r="1.3" fill="#039e76" stroke="#141c38" stroke-width="0.8"/><circle cx="133.9" cy="420.1" r="1.3" fill="#039e76" stroke="#141c38" stroke-width="0.8"/><circle cx="133.9" cy="423.1" r="1.3" fill="#039e76" stroke="#141c38" stroke-width="0.8"/><circle cx="133.9" cy="426.2" r="1.3" fill="#039e76" stroke="#141c38" stroke-width="0.8"/><circle cx="133.9" cy="432.6" r="1.3" fill="#039e76" stroke="#141c38" stroke-width="0.8"/><circle cx="133.9" cy="436.8" r="1.3" fill="#039e76" stroke="#141c38" stroke-width="0.8"/>
<text x="135.5" y="530.9" font-size="6.6" text-anchor="middle">6A</text>
<path d="M152.8 491.5V504.5M152.8 513.8V515.2M150.3 491.5h5M150.3 515.2h5" stroke="#3a3a3a" stroke-width="1" fill="none"/><rect x="144.1" y="504.5" width="17.3" height="9.3" fill="#039e76" stroke="#262626" stroke-width="0.8"/><line x1="144.1" y1="511.2" x2="161.4" y2="511.2" stroke="#262626" stroke-width="1"/><path d="M150.3 500.2l5 5m0 -5l-5 5" stroke="#000" stroke-width="0.75" fill="none"/><circle cx="152.8" cy="393.1" r="1.3" fill="#039e76" stroke="#141c38" stroke-width="0.8"/><circle cx="152.8" cy="399.7" r="1.3" fill="#039e76" stroke="#141c38" stroke-width="0.8"/><circle cx="152.8" cy="407.5" r="1.3" fill="#039e76" stroke="#141c38" stroke-width="0.8"/><circle cx="152.8" cy="412.1" r="1.3" fill="#039e76" stroke="#141c38" stroke-width="0.8"/><circle cx="152.8" cy="422.7" r="1.3" fill="#039e76" stroke="#141c38" stroke-width="0.8"/><circle cx="152.8" cy="427.8" r="1.3" fill="#039e76" stroke="#141c38" stroke-width="0.8"/><circle cx="152.8" cy="432.2" r="1.3" fill="#039e76" stroke="#141c38" stroke-width="0.8"/><circle cx="152.8" cy="440.2" r="1.3" fill="#039e76" stroke="#141c38" stroke-width="0.8"/><circle cx="152.8" cy="442.8" r="1.3" fill="#039e76" stroke="#141c38" stroke-width="0.8"/><circle cx="152.8" cy="447.8" r="1.3" fill="#039e76" stroke="#141c38" stroke-width="0.8"/><circle cx="152.8" cy="452.6" r="1.3" fill="#039e76" stroke="#141c38" stroke-width="0.8"/><circle cx="152.8" cy="458.3" r="1.3" fill="#039e76" stroke="#141c38" stroke-width="0.8"/><circle cx="152.8" cy="464.0" r="1.3" fill="#039e76" stroke="#141c38" stroke-width="0.8"/><circle cx="152.8" cy="468.1" r="1.3" fill="#039e76" stroke="#141c38" stroke-width="0.8"/><circle cx="152.8" cy="471.1" r="1.3" fill="#039e76" stroke="#141c38" stroke-width="0.8"/><circle cx="152.8" cy="477.1" r="1.3" fill="#039e76" stroke="#141c38" stroke-width="0.8"/><circle cx="152.8" cy="480.1" r="1.3" fill="#039e76" stroke="#141c38" stroke-width="0.8"/><circle cx="152.8" cy="484.5" r="1.3" fill="#039e76" stroke="#141c38" stroke-width="0.8"/><circle cx="152.8" cy="490.1" r="1.3" fill="#039e76" stroke="#141c38" stroke-width="0.8"/>
<text x="154.3" y="530.9" font-size="6.6" text-anchor="middle">7A</text>
<path d="M190.6 471.5V493.6M190.6 511.2V515.2M188.1 471.5h5M188.1 515.2h5" stroke="#3a3a3a" stroke-width="1" fill="none"/><rect x="181.9" y="493.6" width="17.3" height="17.6" fill="#fa6002" stroke="#262626" stroke-width="0.8"/><line x1="181.9" y1="508.1" x2="199.2" y2="508.1" stroke="#262626" stroke-width="1"/><path d="M188.1 490.6l5 5m0 -5l-5 5" stroke="#000" stroke-width="0.75" fill="none"/><circle cx="190.6" cy="379.7" r="1.3" fill="#fa6002" stroke="#141c38" stroke-width="0.8"/><circle cx="190.6" cy="384.1" r="1.3" fill="#fa6002" stroke="#141c38" stroke-width="0.8"/><circle cx="190.6" cy="387.7" r="1.3" fill="#fa6002" stroke="#141c38" stroke-width="0.8"/><circle cx="190.6" cy="393.1" r="1.3" fill="#fa6002" stroke="#141c38" stroke-width="0.8"/><circle cx="190.6" cy="396.1" r="1.3" fill="#fa6002" stroke="#141c38" stroke-width="0.8"/><circle cx="190.6" cy="399.1" r="1.3" fill="#fa6002" stroke="#141c38" stroke-width="0.8"/><circle cx="190.6" cy="402.1" r="1.3" fill="#fa6002" stroke="#141c38" stroke-width="0.8"/><circle cx="190.6" cy="405.1" r="1.3" fill="#fa6002" stroke="#141c38" stroke-width="0.8"/><circle cx="190.6" cy="409.1" r="1.3" fill="#fa6002" stroke="#141c38" stroke-width="0.8"/><circle cx="190.6" cy="418.7" r="1.3" fill="#fa6002" stroke="#141c38" stroke-width="0.8"/><circle cx="190.6" cy="421.7" r="1.3" fill="#fa6002" stroke="#141c38" stroke-width="0.8"/><circle cx="190.6" cy="424.8" r="1.3" fill="#fa6002" stroke="#141c38" stroke-width="0.8"/><circle cx="190.6" cy="428.2" r="1.3" fill="#fa6002" stroke="#141c38" stroke-width="0.8"/><circle cx="190.6" cy="433.8" r="1.3" fill="#fa6002" stroke="#141c38" stroke-width="0.8"/><circle cx="190.6" cy="439.2" r="1.3" fill="#fa6002" stroke="#141c38" stroke-width="0.8"/><circle cx="190.6" cy="443.8" r="1.3" fill="#fa6002" stroke="#141c38" stroke-width="0.8"/><circle cx="190.6" cy="448.0" r="1.3" fill="#fa6002" stroke="#141c38" stroke-width="0.8"/><circle cx="190.6" cy="455.1" r="1.3" fill="#fa6002" stroke="#141c38" stroke-width="0.8"/><circle cx="190.6" cy="460.3" r="1.3" fill="#fa6002" stroke="#141c38" stroke-width="0.8"/>
<text x="191.9" y="530.9" font-size="6.6" text-anchor="middle">1C</text>
<path d="M209.5 492.5V504.7M209.5 513.4V515.2M207.0 492.5h5M207.0 515.2h5" stroke="#3a3a3a" stroke-width="1" fill="none"/><rect x="200.8" y="504.7" width="17.3" height="8.7" fill="#fa6002" stroke="#262626" stroke-width="0.8"/><line x1="200.8" y1="510.6" x2="218.2" y2="510.6" stroke="#262626" stroke-width="1"/><path d="M207.0 501.6l5 5m0 -5l-5 5" stroke="#000" stroke-width="0.75" fill="none"/><circle cx="209.5" cy="387.1" r="1.3" fill="#fa6002" stroke="#141c38" stroke-width="0.8"/><circle cx="209.5" cy="403.1" r="1.3" fill="#fa6002" stroke="#141c38" stroke-width="0.8"/><circle cx="209.5" cy="406.1" r="1.3" fill="#fa6002" stroke="#141c38" stroke-width="0.8"/><circle cx="209.5" cy="411.1" r="1.3" fill="#fa6002" stroke="#141c38" stroke-width="0.8"/><circle cx="209.5" cy="419.5" r="1.3" fill="#fa6002" stroke="#141c38" stroke-width="0.8"/><circle cx="209.5" cy="423.1" r="1.3" fill="#fa6002" stroke="#141c38" stroke-width="0.8"/><circle cx="209.5" cy="429.2" r="1.3" fill="#fa6002" stroke="#141c38" stroke-width="0.8"/><circle cx="209.5" cy="440.8" r="1.3" fill="#fa6002" stroke="#141c38" stroke-width="0.8"/><circle cx="209.5" cy="451.4" r="1.3" fill="#fa6002" stroke="#141c38" stroke-width="0.8"/><circle cx="209.5" cy="454.3" r="1.3" fill="#fa6002" stroke="#141c38" stroke-width="0.8"/><circle cx="209.5" cy="459.9" r="1.3" fill="#fa6002" stroke="#141c38" stroke-width="0.8"/><circle cx="209.5" cy="464.0" r="1.3" fill="#fa6002" stroke="#141c38" stroke-width="0.8"/><circle cx="209.5" cy="477.1" r="1.3" fill="#fa6002" stroke="#141c38" stroke-width="0.8"/><circle cx="209.5" cy="481.5" r="1.3" fill="#fa6002" stroke="#141c38" stroke-width="0.8"/><circle cx="209.5" cy="484.5" r="1.3" fill="#fa6002" stroke="#141c38" stroke-width="0.8"/><circle cx="209.5" cy="487.5" r="1.3" fill="#fa6002" stroke="#141c38" stroke-width="0.8"/><circle cx="209.5" cy="490.1" r="1.3" fill="#fa6002" stroke="#141c38" stroke-width="0.8"/><circle cx="209.5" cy="492.5" r="1.3" fill="#fa6002" stroke="#141c38" stroke-width="0.8"/>
<text x="210.7" y="530.9" font-size="6.6" text-anchor="middle">2C</text>
<path d="M228.4 479.1V500.1M228.4 513.8V515.2M225.9 479.1h5M225.9 515.2h5" stroke="#3a3a3a" stroke-width="1" fill="none"/><rect x="219.8" y="500.1" width="17.3" height="13.7" fill="#fa6002" stroke="#262626" stroke-width="0.8"/><line x1="219.8" y1="511.2" x2="237.1" y2="511.2" stroke="#262626" stroke-width="1"/><path d="M225.9 496.0l5 5m0 -5l-5 5" stroke="#000" stroke-width="0.75" fill="none"/><circle cx="228.4" cy="382.1" r="1.3" fill="#fa6002" stroke="#141c38" stroke-width="0.8"/><circle cx="228.4" cy="388.1" r="1.3" fill="#fa6002" stroke="#141c38" stroke-width="0.8"/><circle cx="228.4" cy="391.1" r="1.3" fill="#fa6002" stroke="#141c38" stroke-width="0.8"/><circle cx="228.4" cy="394.1" r="1.3" fill="#fa6002" stroke="#141c38" stroke-width="0.8"/><circle cx="228.4" cy="399.5" r="1.3" fill="#fa6002" stroke="#141c38" stroke-width="0.8"/><circle cx="228.4" cy="403.7" r="1.3" fill="#fa6002" stroke="#141c38" stroke-width="0.8"/><circle cx="228.4" cy="408.7" r="1.3" fill="#fa6002" stroke="#141c38" stroke-width="0.8"/><circle cx="228.4" cy="413.5" r="1.3" fill="#fa6002" stroke="#141c38" stroke-width="0.8"/><circle cx="228.4" cy="416.5" r="1.3" fill="#fa6002" stroke="#141c38" stroke-width="0.8"/><circle cx="228.4" cy="430.8" r="1.3" fill="#fa6002" stroke="#141c38" stroke-width="0.8"/><circle cx="228.4" cy="435.6" r="1.3" fill="#fa6002" stroke="#141c38" stroke-width="0.8"/><circle cx="228.4" cy="452.9" r="1.3" fill="#fa6002" stroke="#141c38" stroke-width="0.8"/><circle cx="228.4" cy="459.6" r="1.3" fill="#fa6002" stroke="#141c38" stroke-width="0.8"/><circle cx="228.4" cy="467.1" r="1.3" fill="#fa6002" stroke="#141c38" stroke-width="0.8"/><circle cx="228.4" cy="471.1" r="1.3" fill="#fa6002" stroke="#141c38" stroke-width="0.8"/><circle cx="228.4" cy="474.1" r="1.3" fill="#fa6002" stroke="#141c38" stroke-width="0.8"/><circle cx="228.4" cy="477.5" r="1.3" fill="#fa6002" stroke="#141c38" stroke-width="0.8"/>
<text x="229.5" y="530.9" font-size="6.6" text-anchor="middle">3C</text>
<path d="M247.3 486.5V501.3M247.3 513.4V515.2M244.8 486.5h5M244.8 515.2h5" stroke="#3a3a3a" stroke-width="1" fill="none"/><rect x="238.6" y="501.3" width="17.3" height="12.1" fill="#fa6002" stroke="#262626" stroke-width="0.8"/><line x1="238.6" y1="511.2" x2="255.9" y2="511.2" stroke="#262626" stroke-width="1"/><path d="M244.8 498.0l5 5m0 -5l-5 5" stroke="#000" stroke-width="0.75" fill="none"/><circle cx="247.3" cy="386.1" r="1.3" fill="#fa6002" stroke="#141c38" stroke-width="0.8"/><circle cx="247.3" cy="389.1" r="1.3" fill="#fa6002" stroke="#141c38" stroke-width="0.8"/><circle cx="247.3" cy="395.5" r="1.3" fill="#fa6002" stroke="#141c38" stroke-width="0.8"/><circle cx="247.3" cy="398.1" r="1.3" fill="#fa6002" stroke="#141c38" stroke-width="0.8"/><circle cx="247.3" cy="404.7" r="1.3" fill="#fa6002" stroke="#141c38" stroke-width="0.8"/><circle cx="247.3" cy="410.1" r="1.3" fill="#fa6002" stroke="#141c38" stroke-width="0.8"/><circle cx="247.3" cy="417.5" r="1.3" fill="#fa6002" stroke="#141c38" stroke-width="0.8"/><circle cx="247.3" cy="421.5" r="1.3" fill="#fa6002" stroke="#141c38" stroke-width="0.8"/><circle cx="247.3" cy="433.2" r="1.3" fill="#fa6002" stroke="#141c38" stroke-width="0.8"/><circle cx="247.3" cy="438.2" r="1.3" fill="#fa6002" stroke="#141c38" stroke-width="0.8"/><circle cx="247.3" cy="445.1" r="1.3" fill="#fa6002" stroke="#141c38" stroke-width="0.8"/><circle cx="247.3" cy="454.5" r="1.3" fill="#fa6002" stroke="#141c38" stroke-width="0.8"/><circle cx="247.3" cy="458.1" r="1.3" fill="#fa6002" stroke="#141c38" stroke-width="0.8"/><circle cx="247.3" cy="461.1" r="1.3" fill="#fa6002" stroke="#141c38" stroke-width="0.8"/><circle cx="247.3" cy="464.1" r="1.3" fill="#fa6002" stroke="#141c38" stroke-width="0.8"/><circle cx="247.3" cy="467.1" r="1.3" fill="#fa6002" stroke="#141c38" stroke-width="0.8"/><circle cx="247.3" cy="470.1" r="1.3" fill="#fa6002" stroke="#141c38" stroke-width="0.8"/><circle cx="247.3" cy="473.1" r="1.3" fill="#fa6002" stroke="#141c38" stroke-width="0.8"/><circle cx="247.3" cy="476.1" r="1.3" fill="#fa6002" stroke="#141c38" stroke-width="0.8"/><circle cx="247.3" cy="478.1" r="1.3" fill="#fa6002" stroke="#141c38" stroke-width="0.8"/><circle cx="247.3" cy="480.5" r="1.3" fill="#fa6002" stroke="#141c38" stroke-width="0.8"/>
<text x="248.3" y="530.9" font-size="6.6" text-anchor="middle">4C</text>
<path d="M266.2 483.1V501.5M266.2 513.4V515.2M263.7 483.1h5M263.7 515.2h5" stroke="#3a3a3a" stroke-width="1" fill="none"/><rect x="257.6" y="501.5" width="17.3" height="11.9" fill="#fa6002" stroke="#262626" stroke-width="0.8"/><line x1="257.6" y1="510.6" x2="274.8" y2="510.6" stroke="#262626" stroke-width="1"/><path d="M263.7 497.6l5 5m0 -5l-5 5" stroke="#000" stroke-width="0.75" fill="none"/><circle cx="266.2" cy="382.7" r="1.3" fill="#fa6002" stroke="#141c38" stroke-width="0.8"/><circle cx="266.2" cy="387.7" r="1.3" fill="#fa6002" stroke="#141c38" stroke-width="0.8"/><circle cx="266.2" cy="392.5" r="1.3" fill="#fa6002" stroke="#141c38" stroke-width="0.8"/><circle cx="266.2" cy="396.7" r="1.3" fill="#fa6002" stroke="#141c38" stroke-width="0.8"/><circle cx="266.2" cy="403.1" r="1.3" fill="#fa6002" stroke="#141c38" stroke-width="0.8"/><circle cx="266.2" cy="407.5" r="1.3" fill="#fa6002" stroke="#141c38" stroke-width="0.8"/><circle cx="266.2" cy="418.1" r="1.3" fill="#fa6002" stroke="#141c38" stroke-width="0.8"/><circle cx="266.2" cy="421.1" r="1.3" fill="#fa6002" stroke="#141c38" stroke-width="0.8"/><circle cx="266.2" cy="424.2" r="1.3" fill="#fa6002" stroke="#141c38" stroke-width="0.8"/><circle cx="266.2" cy="427.2" r="1.3" fill="#fa6002" stroke="#141c38" stroke-width="0.8"/><circle cx="266.2" cy="445.1" r="1.3" fill="#fa6002" stroke="#141c38" stroke-width="0.8"/><circle cx="266.2" cy="460.1" r="1.3" fill="#fa6002" stroke="#141c38" stroke-width="0.8"/><circle cx="266.2" cy="463.4" r="1.3" fill="#fa6002" stroke="#141c38" stroke-width="0.8"/><circle cx="266.2" cy="472.1" r="1.3" fill="#fa6002" stroke="#141c38" stroke-width="0.8"/><circle cx="266.2" cy="477.5" r="1.3" fill="#fa6002" stroke="#141c38" stroke-width="0.8"/><circle cx="266.2" cy="482.7" r="1.3" fill="#fa6002" stroke="#141c38" stroke-width="0.8"/>
<text x="267.1" y="530.9" font-size="6.6" text-anchor="middle">5C</text>
<path d="M285.1 470.1V494.1M285.1 510.6V515.2M282.6 470.1h5M282.6 515.2h5" stroke="#3a3a3a" stroke-width="1" fill="none"/><rect x="276.4" y="494.1" width="17.3" height="16.5" fill="#fa6002" stroke="#262626" stroke-width="0.8"/><line x1="276.4" y1="506.1" x2="293.7" y2="506.1" stroke="#262626" stroke-width="1"/><path d="M282.6 491.6l5 5m0 -5l-5 5" stroke="#000" stroke-width="0.75" fill="none"/><circle cx="285.1" cy="381.1" r="1.3" fill="#fa6002" stroke="#141c38" stroke-width="0.8"/><circle cx="285.1" cy="385.1" r="1.3" fill="#fa6002" stroke="#141c38" stroke-width="0.8"/><circle cx="285.1" cy="390.7" r="1.3" fill="#fa6002" stroke="#141c38" stroke-width="0.8"/><circle cx="285.1" cy="394.5" r="1.3" fill="#fa6002" stroke="#141c38" stroke-width="0.8"/><circle cx="285.1" cy="401.5" r="1.3" fill="#fa6002" stroke="#141c38" stroke-width="0.8"/><circle cx="285.1" cy="404.1" r="1.3" fill="#fa6002" stroke="#141c38" stroke-width="0.8"/><circle cx="285.1" cy="416.5" r="1.3" fill="#fa6002" stroke="#141c38" stroke-width="0.8"/><circle cx="285.1" cy="420.1" r="1.3" fill="#fa6002" stroke="#141c38" stroke-width="0.8"/><circle cx="285.1" cy="424.2" r="1.3" fill="#fa6002" stroke="#141c38" stroke-width="0.8"/><circle cx="285.1" cy="430.8" r="1.3" fill="#fa6002" stroke="#141c38" stroke-width="0.8"/><circle cx="285.1" cy="436.8" r="1.3" fill="#fa6002" stroke="#141c38" stroke-width="0.8"/><circle cx="285.1" cy="440.2" r="1.3" fill="#fa6002" stroke="#141c38" stroke-width="0.8"/><circle cx="285.1" cy="442.8" r="1.3" fill="#fa6002" stroke="#141c38" stroke-width="0.8"/><circle cx="285.1" cy="446.3" r="1.3" fill="#fa6002" stroke="#141c38" stroke-width="0.8"/><circle cx="285.1" cy="449.3" r="1.3" fill="#fa6002" stroke="#141c38" stroke-width="0.8"/><circle cx="285.1" cy="454.1" r="1.3" fill="#fa6002" stroke="#141c38" stroke-width="0.8"/><circle cx="285.1" cy="458.3" r="1.3" fill="#fa6002" stroke="#141c38" stroke-width="0.8"/><circle cx="285.1" cy="462.1" r="1.3" fill="#fa6002" stroke="#141c38" stroke-width="0.8"/><circle cx="285.1" cy="466.1" r="1.3" fill="#fa6002" stroke="#141c38" stroke-width="0.8"/><circle cx="285.1" cy="469.5" r="1.3" fill="#fa6002" stroke="#141c38" stroke-width="0.8"/>
<text x="285.9" y="530.9" font-size="6.6" text-anchor="middle">6C</text>
<path d="M304.0 495.1V506.1M304.0 513.8V515.2M301.5 495.1h5M301.5 515.2h5" stroke="#3a3a3a" stroke-width="1" fill="none"/><rect x="295.3" y="506.1" width="17.3" height="7.7" fill="#fa6002" stroke="#262626" stroke-width="0.8"/><line x1="295.3" y1="510.8" x2="312.6" y2="510.8" stroke="#262626" stroke-width="1"/><path d="M301.5 501.6l5 5m0 -5l-5 5" stroke="#000" stroke-width="0.75" fill="none"/><circle cx="304.0" cy="384.1" r="1.3" fill="#fa6002" stroke="#141c38" stroke-width="0.8"/><circle cx="304.0" cy="392.1" r="1.3" fill="#fa6002" stroke="#141c38" stroke-width="0.8"/><circle cx="304.0" cy="398.1" r="1.3" fill="#fa6002" stroke="#141c38" stroke-width="0.8"/><circle cx="304.0" cy="403.1" r="1.3" fill="#fa6002" stroke="#141c38" stroke-width="0.8"/><circle cx="304.0" cy="414.9" r="1.3" fill="#fa6002" stroke="#141c38" stroke-width="0.8"/><circle cx="304.0" cy="426.8" r="1.3" fill="#fa6002" stroke="#141c38" stroke-width="0.8"/><circle cx="304.0" cy="431.2" r="1.3" fill="#fa6002" stroke="#141c38" stroke-width="0.8"/><circle cx="304.0" cy="434.2" r="1.3" fill="#fa6002" stroke="#141c38" stroke-width="0.8"/><circle cx="304.0" cy="438.2" r="1.3" fill="#fa6002" stroke="#141c38" stroke-width="0.8"/><circle cx="304.0" cy="448.3" r="1.3" fill="#fa6002" stroke="#141c38" stroke-width="0.8"/><circle cx="304.0" cy="466.1" r="1.3" fill="#fa6002" stroke="#141c38" stroke-width="0.8"/><circle cx="304.0" cy="472.5" r="1.3" fill="#fa6002" stroke="#141c38" stroke-width="0.8"/><circle cx="304.0" cy="478.1" r="1.3" fill="#fa6002" stroke="#141c38" stroke-width="0.8"/><circle cx="304.0" cy="487.7" r="1.3" fill="#fa6002" stroke="#141c38" stroke-width="0.8"/><circle cx="304.0" cy="491.7" r="1.3" fill="#fa6002" stroke="#141c38" stroke-width="0.8"/><circle cx="304.0" cy="494.1" r="1.3" fill="#fa6002" stroke="#141c38" stroke-width="0.8"/>
<text x="304.7" y="530.9" font-size="6.6" text-anchor="middle">7C</text>
<path d="M341.8 469.9V494.1M341.8 510.6V515.2M339.3 469.9h5M339.3 515.2h5" stroke="#3a3a3a" stroke-width="1" fill="none"/><rect x="333.1" y="494.1" width="17.3" height="16.5" fill="#7872b8" stroke="#262626" stroke-width="0.8"/><line x1="333.1" y1="505.1" x2="350.4" y2="505.1" stroke="#262626" stroke-width="1"/><path d="M339.3 491.9l5 5m0 -5l-5 5" stroke="#000" stroke-width="0.75" fill="none"/><circle cx="341.8" cy="382.7" r="1.3" fill="#7872b8" stroke="#141c38" stroke-width="0.8"/><circle cx="341.8" cy="386.7" r="1.3" fill="#7872b8" stroke="#141c38" stroke-width="0.8"/><circle cx="341.8" cy="390.1" r="1.3" fill="#7872b8" stroke="#141c38" stroke-width="0.8"/><circle cx="341.8" cy="394.1" r="1.3" fill="#7872b8" stroke="#141c38" stroke-width="0.8"/><circle cx="341.8" cy="397.1" r="1.3" fill="#7872b8" stroke="#141c38" stroke-width="0.8"/><circle cx="341.8" cy="403.1" r="1.3" fill="#7872b8" stroke="#141c38" stroke-width="0.8"/><circle cx="341.8" cy="408.1" r="1.3" fill="#7872b8" stroke="#141c38" stroke-width="0.8"/><circle cx="341.8" cy="414.1" r="1.3" fill="#7872b8" stroke="#141c38" stroke-width="0.8"/><circle cx="341.8" cy="418.7" r="1.3" fill="#7872b8" stroke="#141c38" stroke-width="0.8"/><circle cx="341.8" cy="421.1" r="1.3" fill="#7872b8" stroke="#141c38" stroke-width="0.8"/><circle cx="341.8" cy="431.6" r="1.3" fill="#7872b8" stroke="#141c38" stroke-width="0.8"/><circle cx="341.8" cy="442.7" r="1.3" fill="#7872b8" stroke="#141c38" stroke-width="0.8"/><circle cx="341.8" cy="445.8" r="1.3" fill="#7872b8" stroke="#141c38" stroke-width="0.8"/><circle cx="341.8" cy="448.8" r="1.3" fill="#7872b8" stroke="#141c38" stroke-width="0.8"/><circle cx="341.8" cy="455.5" r="1.3" fill="#7872b8" stroke="#141c38" stroke-width="0.8"/><circle cx="341.8" cy="459.5" r="1.3" fill="#7872b8" stroke="#141c38" stroke-width="0.8"/><circle cx="341.8" cy="462.8" r="1.3" fill="#7872b8" stroke="#141c38" stroke-width="0.8"/><circle cx="341.8" cy="469.1" r="1.3" fill="#7872b8" stroke="#141c38" stroke-width="0.8"/>
<text x="342.3" y="530.9" font-size="6.6" text-anchor="middle">1D</text>
<path d="M360.7 460.1V492.1M360.7 513.2V515.2M358.2 460.1h5M358.2 515.2h5" stroke="#3a3a3a" stroke-width="1" fill="none"/><rect x="352.0" y="492.1" width="17.3" height="21.1" fill="#7872b8" stroke="#262626" stroke-width="0.8"/><line x1="352.0" y1="506.7" x2="369.3" y2="506.7" stroke="#262626" stroke-width="1"/><path d="M358.2 491.2l5 5m0 -5l-5 5" stroke="#000" stroke-width="0.75" fill="none"/><circle cx="360.7" cy="382.7" r="1.3" fill="#7872b8" stroke="#141c38" stroke-width="0.8"/><circle cx="360.7" cy="387.1" r="1.3" fill="#7872b8" stroke="#141c38" stroke-width="0.8"/><circle cx="360.7" cy="392.1" r="1.3" fill="#7872b8" stroke="#141c38" stroke-width="0.8"/><circle cx="360.7" cy="397.1" r="1.3" fill="#7872b8" stroke="#141c38" stroke-width="0.8"/><circle cx="360.7" cy="401.1" r="1.3" fill="#7872b8" stroke="#141c38" stroke-width="0.8"/><circle cx="360.7" cy="403.7" r="1.3" fill="#7872b8" stroke="#141c38" stroke-width="0.8"/><circle cx="360.7" cy="406.1" r="1.3" fill="#7872b8" stroke="#141c38" stroke-width="0.8"/><circle cx="360.7" cy="408.7" r="1.3" fill="#7872b8" stroke="#141c38" stroke-width="0.8"/><circle cx="360.7" cy="411.5" r="1.3" fill="#7872b8" stroke="#141c38" stroke-width="0.8"/><circle cx="360.7" cy="414.1" r="1.3" fill="#7872b8" stroke="#141c38" stroke-width="0.8"/><circle cx="360.7" cy="417.5" r="1.3" fill="#7872b8" stroke="#141c38" stroke-width="0.8"/><circle cx="360.7" cy="423.1" r="1.3" fill="#7872b8" stroke="#141c38" stroke-width="0.8"/><circle cx="360.7" cy="425.8" r="1.3" fill="#7872b8" stroke="#141c38" stroke-width="0.8"/><circle cx="360.7" cy="428.2" r="1.3" fill="#7872b8" stroke="#141c38" stroke-width="0.8"/><circle cx="360.7" cy="430.8" r="1.3" fill="#7872b8" stroke="#141c38" stroke-width="0.8"/><circle cx="360.7" cy="433.2" r="1.3" fill="#7872b8" stroke="#141c38" stroke-width="0.8"/><circle cx="360.7" cy="440.4" r="1.3" fill="#7872b8" stroke="#141c38" stroke-width="0.8"/><circle cx="360.7" cy="443.2" r="1.3" fill="#7872b8" stroke="#141c38" stroke-width="0.8"/><circle cx="360.7" cy="446.0" r="1.3" fill="#7872b8" stroke="#141c38" stroke-width="0.8"/><circle cx="360.7" cy="448.6" r="1.3" fill="#7872b8" stroke="#141c38" stroke-width="0.8"/><circle cx="360.7" cy="451.8" r="1.3" fill="#7872b8" stroke="#141c38" stroke-width="0.8"/><circle cx="360.7" cy="454.8" r="1.3" fill="#7872b8" stroke="#141c38" stroke-width="0.8"/><circle cx="360.7" cy="458.3" r="1.3" fill="#7872b8" stroke="#141c38" stroke-width="0.8"/>
<text x="361.1" y="530.9" font-size="6.6" text-anchor="middle">2D</text>
<path d="M379.6 463.1V491.1M379.6 511.2V515.2M377.1 463.1h5M377.1 515.2h5" stroke="#3a3a3a" stroke-width="1" fill="none"/><rect x="370.9" y="491.1" width="17.3" height="20.1" fill="#7872b8" stroke="#262626" stroke-width="0.8"/><line x1="370.9" y1="505.1" x2="388.2" y2="505.1" stroke="#262626" stroke-width="1"/><path d="M377.1 490.0l5 5m0 -5l-5 5" stroke="#000" stroke-width="0.75" fill="none"/><circle cx="379.6" cy="390.7" r="1.3" fill="#7872b8" stroke="#141c38" stroke-width="0.8"/><circle cx="379.6" cy="401.5" r="1.3" fill="#7872b8" stroke="#141c38" stroke-width="0.8"/><circle cx="379.6" cy="405.1" r="1.3" fill="#7872b8" stroke="#141c38" stroke-width="0.8"/><circle cx="379.6" cy="408.7" r="1.3" fill="#7872b8" stroke="#141c38" stroke-width="0.8"/><circle cx="379.6" cy="411.5" r="1.3" fill="#7872b8" stroke="#141c38" stroke-width="0.8"/><circle cx="379.6" cy="414.5" r="1.3" fill="#7872b8" stroke="#141c38" stroke-width="0.8"/><circle cx="379.6" cy="417.5" r="1.3" fill="#7872b8" stroke="#141c38" stroke-width="0.8"/><circle cx="379.6" cy="424.2" r="1.3" fill="#7872b8" stroke="#141c38" stroke-width="0.8"/><circle cx="379.6" cy="428.2" r="1.3" fill="#7872b8" stroke="#141c38" stroke-width="0.8"/><circle cx="379.6" cy="436.2" r="1.3" fill="#7872b8" stroke="#141c38" stroke-width="0.8"/><circle cx="379.6" cy="438.8" r="1.3" fill="#7872b8" stroke="#141c38" stroke-width="0.8"/><circle cx="379.6" cy="443.1" r="1.3" fill="#7872b8" stroke="#141c38" stroke-width="0.8"/><circle cx="379.6" cy="448.3" r="1.3" fill="#7872b8" stroke="#141c38" stroke-width="0.8"/><circle cx="379.6" cy="451.1" r="1.3" fill="#7872b8" stroke="#141c38" stroke-width="0.8"/>
<text x="379.9" y="530.9" font-size="6.6" text-anchor="middle">3D</text>
<path d="M398.5 466.5V494.1M398.5 511.8V515.2M396.0 466.5h5M396.0 515.2h5" stroke="#3a3a3a" stroke-width="1" fill="none"/><rect x="389.8" y="494.1" width="17.3" height="17.7" fill="#7872b8" stroke="#262626" stroke-width="0.8"/><line x1="389.8" y1="507.5" x2="407.1" y2="507.5" stroke="#262626" stroke-width="1"/><path d="M396.0 494.4l5 5m0 -5l-5 5" stroke="#000" stroke-width="0.75" fill="none"/><circle cx="398.5" cy="378.1" r="1.3" fill="#7872b8" stroke="#141c38" stroke-width="0.8"/><circle cx="398.5" cy="380.5" r="1.3" fill="#7872b8" stroke="#141c38" stroke-width="0.8"/><circle cx="398.5" cy="383.1" r="1.3" fill="#7872b8" stroke="#141c38" stroke-width="0.8"/><circle cx="398.5" cy="385.5" r="1.3" fill="#7872b8" stroke="#141c38" stroke-width="0.8"/><circle cx="398.5" cy="388.1" r="1.3" fill="#7872b8" stroke="#141c38" stroke-width="0.8"/><circle cx="398.5" cy="394.1" r="1.3" fill="#7872b8" stroke="#141c38" stroke-width="0.8"/><circle cx="398.5" cy="404.1" r="1.3" fill="#7872b8" stroke="#141c38" stroke-width="0.8"/><circle cx="398.5" cy="409.5" r="1.3" fill="#7872b8" stroke="#141c38" stroke-width="0.8"/><circle cx="398.5" cy="418.7" r="1.3" fill="#7872b8" stroke="#141c38" stroke-width="0.8"/><circle cx="398.5" cy="421.1" r="1.3" fill="#7872b8" stroke="#141c38" stroke-width="0.8"/><circle cx="398.5" cy="428.2" r="1.3" fill="#7872b8" stroke="#141c38" stroke-width="0.8"/><circle cx="398.5" cy="431.2" r="1.3" fill="#7872b8" stroke="#141c38" stroke-width="0.8"/><circle cx="398.5" cy="433.8" r="1.3" fill="#7872b8" stroke="#141c38" stroke-width="0.8"/><circle cx="398.5" cy="436.2" r="1.3" fill="#7872b8" stroke="#141c38" stroke-width="0.8"/><circle cx="398.5" cy="444.3" r="1.3" fill="#7872b8" stroke="#141c38" stroke-width="0.8"/><circle cx="398.5" cy="446.9" r="1.3" fill="#7872b8" stroke="#141c38" stroke-width="0.8"/><circle cx="398.5" cy="449.4" r="1.3" fill="#7872b8" stroke="#141c38" stroke-width="0.8"/><circle cx="398.5" cy="451.8" r="1.3" fill="#7872b8" stroke="#141c38" stroke-width="0.8"/><circle cx="398.5" cy="454.3" r="1.3" fill="#7872b8" stroke="#141c38" stroke-width="0.8"/><circle cx="398.5" cy="459.3" r="1.3" fill="#7872b8" stroke="#141c38" stroke-width="0.8"/><circle cx="398.5" cy="464.7" r="1.3" fill="#7872b8" stroke="#141c38" stroke-width="0.8"/>
<text x="398.7" y="530.9" font-size="6.6" text-anchor="middle">4D</text>
<path d="M417.4 452.1V485.5M417.4 511.0V515.2M414.9 452.1h5M414.9 515.2h5" stroke="#3a3a3a" stroke-width="1" fill="none"/><rect x="408.8" y="485.5" width="17.3" height="25.5" fill="#7872b8" stroke="#262626" stroke-width="0.8"/><line x1="408.8" y1="505.1" x2="426.0" y2="505.1" stroke="#262626" stroke-width="1"/><path d="M414.9 486.6l5 5m0 -5l-5 5" stroke="#000" stroke-width="0.75" fill="none"/><circle cx="417.4" cy="383.5" r="1.3" fill="#7872b8" stroke="#141c38" stroke-width="0.8"/><circle cx="417.4" cy="386.1" r="1.3" fill="#7872b8" stroke="#141c38" stroke-width="0.8"/><circle cx="417.4" cy="389.1" r="1.3" fill="#7872b8" stroke="#141c38" stroke-width="0.8"/><circle cx="417.4" cy="394.1" r="1.3" fill="#7872b8" stroke="#141c38" stroke-width="0.8"/><circle cx="417.4" cy="397.1" r="1.3" fill="#7872b8" stroke="#141c38" stroke-width="0.8"/><circle cx="417.4" cy="399.5" r="1.3" fill="#7872b8" stroke="#141c38" stroke-width="0.8"/><circle cx="417.4" cy="402.1" r="1.3" fill="#7872b8" stroke="#141c38" stroke-width="0.8"/><circle cx="417.4" cy="404.7" r="1.3" fill="#7872b8" stroke="#141c38" stroke-width="0.8"/><circle cx="417.4" cy="407.1" r="1.3" fill="#7872b8" stroke="#141c38" stroke-width="0.8"/><circle cx="417.4" cy="413.1" r="1.3" fill="#7872b8" stroke="#141c38" stroke-width="0.8"/><circle cx="417.4" cy="415.7" r="1.3" fill="#7872b8" stroke="#141c38" stroke-width="0.8"/><circle cx="417.4" cy="418.7" r="1.3" fill="#7872b8" stroke="#141c38" stroke-width="0.8"/><circle cx="417.4" cy="422.1" r="1.3" fill="#7872b8" stroke="#141c38" stroke-width="0.8"/><circle cx="417.4" cy="425.2" r="1.3" fill="#7872b8" stroke="#141c38" stroke-width="0.8"/><circle cx="417.4" cy="428.2" r="1.3" fill="#7872b8" stroke="#141c38" stroke-width="0.8"/><circle cx="417.4" cy="433.8" r="1.3" fill="#7872b8" stroke="#141c38" stroke-width="0.8"/><circle cx="417.4" cy="436.6" r="1.3" fill="#7872b8" stroke="#141c38" stroke-width="0.8"/><circle cx="417.4" cy="445.6" r="1.3" fill="#7872b8" stroke="#141c38" stroke-width="0.8"/>
<text x="417.5" y="530.9" font-size="6.6" text-anchor="middle">5D</text>
<path d="M436.3 441.5V481.1M436.3 510.2V515.2M433.8 441.5h5M433.8 515.2h5" stroke="#3a3a3a" stroke-width="1" fill="none"/><rect x="427.6" y="481.1" width="17.3" height="29.1" fill="#7872b8" stroke="#262626" stroke-width="0.8"/><line x1="427.6" y1="503.1" x2="444.9" y2="503.1" stroke="#262626" stroke-width="1"/><path d="M433.8 486.2l5 5m0 -5l-5 5" stroke="#000" stroke-width="0.75" fill="none"/><circle cx="436.3" cy="388.1" r="1.3" fill="#7872b8" stroke="#141c38" stroke-width="0.8"/><circle cx="436.3" cy="392.1" r="1.3" fill="#7872b8" stroke="#141c38" stroke-width="0.8"/><circle cx="436.3" cy="403.1" r="1.3" fill="#7872b8" stroke="#141c38" stroke-width="0.8"/><circle cx="436.3" cy="406.1" r="1.3" fill="#7872b8" stroke="#141c38" stroke-width="0.8"/><circle cx="436.3" cy="408.7" r="1.3" fill="#7872b8" stroke="#141c38" stroke-width="0.8"/><circle cx="436.3" cy="411.5" r="1.3" fill="#7872b8" stroke="#141c38" stroke-width="0.8"/><circle cx="436.3" cy="416.1" r="1.3" fill="#7872b8" stroke="#141c38" stroke-width="0.8"/><circle cx="436.3" cy="419.1" r="1.3" fill="#7872b8" stroke="#141c38" stroke-width="0.8"/><circle cx="436.3" cy="422.1" r="1.3" fill="#7872b8" stroke="#141c38" stroke-width="0.8"/><circle cx="436.3" cy="425.2" r="1.3" fill="#7872b8" stroke="#141c38" stroke-width="0.8"/><circle cx="436.3" cy="430.2" r="1.3" fill="#7872b8" stroke="#141c38" stroke-width="0.8"/><circle cx="436.3" cy="437.2" r="1.3" fill="#7872b8" stroke="#141c38" stroke-width="0.8"/>
<text x="436.3" y="530.9" font-size="6.6" text-anchor="middle">6D</text>
<path d="M455.2 471.7V496.1M455.2 513.6V515.2M452.7 471.7h5M452.7 515.2h5" stroke="#3a3a3a" stroke-width="1" fill="none"/><rect x="446.5" y="496.1" width="17.3" height="17.5" fill="#7872b8" stroke="#262626" stroke-width="0.8"/><line x1="446.5" y1="509.6" x2="463.8" y2="509.6" stroke="#262626" stroke-width="1"/><path d="M452.7 494.0l5 5m0 -5l-5 5" stroke="#000" stroke-width="0.75" fill="none"/><circle cx="455.2" cy="378.7" r="1.3" fill="#7872b8" stroke="#141c38" stroke-width="0.8"/><circle cx="455.2" cy="381.1" r="1.3" fill="#7872b8" stroke="#141c38" stroke-width="0.8"/><circle cx="455.2" cy="383.5" r="1.3" fill="#7872b8" stroke="#141c38" stroke-width="0.8"/><circle cx="455.2" cy="386.1" r="1.3" fill="#7872b8" stroke="#141c38" stroke-width="0.8"/><circle cx="455.2" cy="388.7" r="1.3" fill="#7872b8" stroke="#141c38" stroke-width="0.8"/><circle cx="455.2" cy="391.5" r="1.3" fill="#7872b8" stroke="#141c38" stroke-width="0.8"/><circle cx="455.2" cy="401.1" r="1.3" fill="#7872b8" stroke="#141c38" stroke-width="0.8"/><circle cx="455.2" cy="405.1" r="1.3" fill="#7872b8" stroke="#141c38" stroke-width="0.8"/><circle cx="455.2" cy="409.1" r="1.3" fill="#7872b8" stroke="#141c38" stroke-width="0.8"/><circle cx="455.2" cy="418.7" r="1.3" fill="#7872b8" stroke="#141c38" stroke-width="0.8"/><circle cx="455.2" cy="423.5" r="1.3" fill="#7872b8" stroke="#141c38" stroke-width="0.8"/><circle cx="455.2" cy="426.8" r="1.3" fill="#7872b8" stroke="#141c38" stroke-width="0.8"/><circle cx="455.2" cy="436.8" r="1.3" fill="#7872b8" stroke="#141c38" stroke-width="0.8"/><circle cx="455.2" cy="439.2" r="1.3" fill="#7872b8" stroke="#141c38" stroke-width="0.8"/><circle cx="455.2" cy="441.6" r="1.3" fill="#7872b8" stroke="#141c38" stroke-width="0.8"/><circle cx="455.2" cy="444.1" r="1.3" fill="#7872b8" stroke="#141c38" stroke-width="0.8"/><circle cx="455.2" cy="446.9" r="1.3" fill="#7872b8" stroke="#141c38" stroke-width="0.8"/><circle cx="455.2" cy="449.6" r="1.3" fill="#7872b8" stroke="#141c38" stroke-width="0.8"/><circle cx="455.2" cy="452.4" r="1.3" fill="#7872b8" stroke="#141c38" stroke-width="0.8"/><circle cx="455.2" cy="455.0" r="1.3" fill="#7872b8" stroke="#141c38" stroke-width="0.8"/><circle cx="455.2" cy="460.1" r="1.3" fill="#7872b8" stroke="#141c38" stroke-width="0.8"/><circle cx="455.2" cy="462.8" r="1.3" fill="#7872b8" stroke="#141c38" stroke-width="0.8"/><circle cx="455.2" cy="465.1" r="1.3" fill="#7872b8" stroke="#141c38" stroke-width="0.8"/><circle cx="455.2" cy="469.1" r="1.3" fill="#7872b8" stroke="#141c38" stroke-width="0.8"/>
<text x="455.1" y="530.9" font-size="6.6" text-anchor="middle">7D</text>
<text x="98.0" y="545.8" font-size="6.8" text-anchor="middle" fill="#262626" word-spacing="1.5">genome A</text>
<text x="248.7" y="545.8" font-size="6.8" text-anchor="middle" fill="#262626" word-spacing="1.5">genome C</text>
<text x="399.4" y="545.8" font-size="6.8" text-anchor="middle" fill="#262626" word-spacing="1.5">genome D</text>
<text class="b" transform="translate(8.2,437.3) rotate(-90)" font-size="6.7" text-anchor="middle">Ho</text>
</svg></body></html>
